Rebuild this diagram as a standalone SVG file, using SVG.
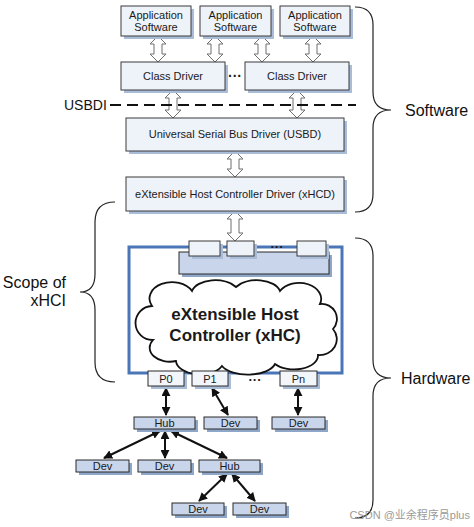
<svg xmlns="http://www.w3.org/2000/svg" width="474" height="527" viewBox="0 0 474 527">
<defs>
<style>
.box{fill:#eef2f9;stroke:#3a3a3a;stroke-width:1}
.sh{fill:#a9bdd9;stroke:none}
.sm{fill:#c8d5ea;stroke:#2a2a2a;stroke-width:1}
.shd{fill:#8ea6c8;stroke:none}
.port{fill:#f2f5fa;stroke:#2a2a2a;stroke-width:1}
.t{font-family:"Liberation Sans",Arial,sans-serif;fill:#1a1a1a;text-anchor:middle}
.lbl{font-family:"Liberation Sans",Arial,sans-serif;fill:#111;font-size:16px}
.ha{fill:#ffffff;stroke:#6f6f6f;stroke-width:1}
.br{fill:none;stroke:#222;stroke-width:1.2}
.ba{stroke:#111;stroke-width:2;fill:none;marker-start:url(#ah);marker-end:url(#ah)}
</style>
<marker id="ah" viewBox="0 0 10 10" refX="9" refY="5" markerWidth="4.5" markerHeight="4.5" orient="auto-start-reverse" markerUnits="strokeWidth">
<path d="M0,0 L10,5 L0,10 Z" fill="#111"/>
</marker>
</defs>

<g id="connectors">
<path class="ha" d="M158,36 L166,44 L162,44 L162,54 L166,54 L158,62 L150,54 L154,54 L154,44 L150,44 Z"/>
<path class="ha" d="M215,36 L223,44 L219,44 L219,54 L223,54 L215,62 L207,54 L211,54 L211,44 L207,44 Z"/>
<path class="ha" d="M262,36 L270,44 L266,44 L266,54 L270,54 L262,62 L254,54 L258,54 L258,44 L254,44 Z"/>
<path class="ha" d="M313,36 L321,44 L317,44 L317,54 L321,54 L313,62 L305,54 L309,54 L309,44 L305,44 Z"/>
<path class="ha" d="M173,90 L181,98 L177,98 L177,110 L181,110 L173,118 L165,110 L169,110 L169,98 L165,98 Z"/>
<path class="ha" d="M297,90 L305,98 L301,98 L301,110 L305,110 L297,118 L289,110 L293,110 L293,98 L289,98 Z"/>
<path class="ha" d="M235,151 L243,159 L239,159 L239,169 L243,169 L235,177 L227,169 L231,169 L231,159 L227,159 Z"/>
<path class="ha" d="M235,211 L243,219 L239,219 L239,233 L243,233 L235,241 L227,233 L231,233 L231,219 L227,219 Z"/>
<line x1="110" y1="105" x2="356" y2="105" stroke="#111" stroke-width="2" stroke-dasharray="11,6"/>
<line class="ba" x1="166" y1="388" x2="166" y2="415"/>
<line class="ba" x1="212" y1="388" x2="228" y2="415"/>
<line class="ba" x1="298" y1="388" x2="298" y2="415"/>
<line class="ba" x1="160" y1="431" x2="104" y2="458"/>
<line class="ba" x1="165" y1="431" x2="165" y2="458"/>
<line class="ba" x1="171" y1="431" x2="227" y2="458"/>
<line class="ba" x1="227" y1="474" x2="199" y2="501"/>
<line class="ba" x1="232" y1="474" x2="255" y2="501"/>
</g>

<g id="app1"><rect class="sh" x="124" y="9" width="70" height="30"/><rect class="box" x="121" y="6" width="70" height="30"/><text class="t" font-size="11" x="156" y="19">Application</text><text class="t" font-size="11" x="156" y="31">Software</text></g>
<g id="app2"><rect class="sh" x="203" y="9" width="71" height="30"/><rect class="box" x="200" y="6" width="71" height="30"/><text class="t" font-size="11" x="235.5" y="19">Application</text><text class="t" font-size="11" x="235.5" y="31">Software</text></g>
<g id="app3"><rect class="sh" x="283" y="9" width="70" height="30"/><rect class="box" x="280" y="6" width="70" height="30"/><text class="t" font-size="11" x="315" y="19">Application</text><text class="t" font-size="11" x="315" y="31">Software</text></g>

<g id="classdriver1"><rect class="sh" x="124" y="65" width="104" height="28"/><rect class="box" x="121" y="62" width="104" height="28"/><text class="t" font-size="11" x="173" y="80">Class Driver</text></g>
<g id="classdriver2"><rect class="sh" x="248" y="65" width="104" height="28"/><rect class="box" x="245" y="62" width="104" height="28"/><text class="t" font-size="11" x="297" y="80">Class Driver</text></g>
<text class="t" font-size="14" x="235" y="81" font-weight="bold">···</text>

<text class="lbl" x="64" y="110" style="font-size:14px">USBDI</text>

<g id="usbd"><rect class="sh" x="129" y="121" width="218" height="33"/><rect class="box" x="126" y="118" width="218" height="33"/><text class="t" font-size="11" x="235" y="138">Universal Serial Bus Driver (USBD)</text></g>
<g id="xhcd"><rect class="sh" x="129" y="180" width="218" height="34"/><rect class="box" x="126" y="177" width="218" height="34"/><text class="t" font-size="11" x="235" y="198">eXtensible Host Controller Driver (xHCD)</text></g>

<g id="xhc">
<rect x="129" y="247" width="213" height="126" fill="#ffffff" stroke="#4a76b8" stroke-width="3"/>
<rect class="shd" x="182" y="255" width="150" height="22"/>
<rect class="sm" x="179" y="252" width="150" height="22"/>
<rect class="sh" x="192" y="244" width="31" height="15"/><rect class="box" x="189" y="241" width="31" height="15"/>
<rect class="sh" x="230" y="244" width="27" height="15"/><rect class="box" x="227" y="241" width="27" height="15"/>
<rect class="sh" x="300" y="244" width="29" height="15"/><rect class="box" x="297" y="241" width="29" height="15"/>
<text class="t" font-size="13" x="277" y="251" font-weight="bold">···</text>
<path d="M153,340 A17,17 0 0 1 152,306 A22,16 0 0 1 192,291 A24,14 0 0 1 236,287 A24,14 0 0 1 280,291 A22,16 0 0 1 320,304 A15,15 0 0 1 333,329 A17,16 0 0 1 318,355 A24,14 0 0 1 275,364 A28,14 0 0 1 222,366 A24,14 0 0 1 176,361 A20,14 0 0 1 153,340 Z" fill="#ffffff" stroke="#111" stroke-width="1.8"/>
<text class="t" font-size="17" font-weight="bold" x="235" y="320">eXtensible Host</text>
<text class="t" font-size="17" font-weight="bold" x="235" y="341">Controller (xHC)</text>
</g>

<g id="p0"><rect class="sh" x="151" y="374" width="36" height="15"/><rect class="port" x="148" y="371" width="36" height="15"/><text class="t" font-size="11" x="166" y="383">P0</text></g>
<g id="p1"><rect class="sh" x="195" y="374" width="36" height="15"/><rect class="port" x="192" y="371" width="36" height="15"/><text class="t" font-size="11" x="210" y="383">P1</text></g>
<g id="pn"><rect class="sh" x="283" y="374" width="37" height="15"/><rect class="port" x="280" y="371" width="37" height="15"/><text class="t" font-size="11" x="298.5" y="383">Pn</text></g>
<text class="t" font-size="13" x="255" y="384" font-weight="bold">···</text>

<g id="hub1"><rect class="shd" x="137" y="420" width="61" height="12"/><rect class="sm" x="134" y="417" width="61" height="12"/><text class="t" font-size="11" x="164.5" y="427">Hub</text></g>
<g id="dev1"><rect class="shd" x="207" y="420" width="53" height="12"/><rect class="sm" x="204" y="417" width="53" height="12"/><text class="t" font-size="11" x="230.5" y="427">Dev</text></g>
<g id="dev2"><rect class="shd" x="275" y="420" width="53" height="12"/><rect class="sm" x="272" y="417" width="53" height="12"/><text class="t" font-size="11" x="298.5" y="427">Dev</text></g>
<g id="dev3"><rect class="shd" x="79" y="463" width="53" height="12"/><rect class="sm" x="76" y="460" width="53" height="12"/><text class="t" font-size="11" x="102.5" y="470">Dev</text></g>
<g id="dev4"><rect class="shd" x="141" y="463" width="53" height="12"/><rect class="sm" x="138" y="460" width="53" height="12"/><text class="t" font-size="11" x="164.5" y="470">Dev</text></g>
<g id="hub2"><rect class="shd" x="202" y="463" width="61" height="12"/><rect class="sm" x="199" y="460" width="61" height="12"/><text class="t" font-size="11" x="229.5" y="470">Hub</text></g>
<g id="dev5"><rect class="shd" x="175" y="506" width="52" height="12"/><rect class="sm" x="172" y="503" width="52" height="12"/><text class="t" font-size="11" x="198" y="513">Dev</text></g>
<g id="dev6"><rect class="shd" x="236" y="506" width="53" height="12"/><rect class="sm" x="233" y="503" width="53" height="12"/><text class="t" font-size="11" x="259.5" y="513">Dev</text></g>

<g id="braces">
<path class="br" d="M355,7 Q373,7 373,25 L373,92 Q373,110 391,110 Q373,110 373,128 L373,194 Q373,212 355,212"/>
<path class="br" d="M355,238 Q373,238 373,256 L373,360 Q373,378 391,378 Q373,378 373,396 L373,500 Q373,518 355,518"/>
<path class="br" d="M115,202 Q95,202 95,222 L95,274 Q95,292 80,292 Q95,292 95,310 L95,362 Q95,382 115,382"/>
</g>
<text class="lbl" x="405" y="116">Software</text>
<text class="lbl" x="401" y="384">Hardware</text>
<text class="lbl" x="66" y="288" text-anchor="end">Scope of</text>
<text class="lbl" x="66" y="306" text-anchor="end">xHCI</text>
<text x="470" y="519" text-anchor="end" font-family="Liberation Sans,'Noto Sans CJK SC',sans-serif" font-size="11" fill="#9a9a9a">CSDN @业余程序员plus</text>
</svg>
